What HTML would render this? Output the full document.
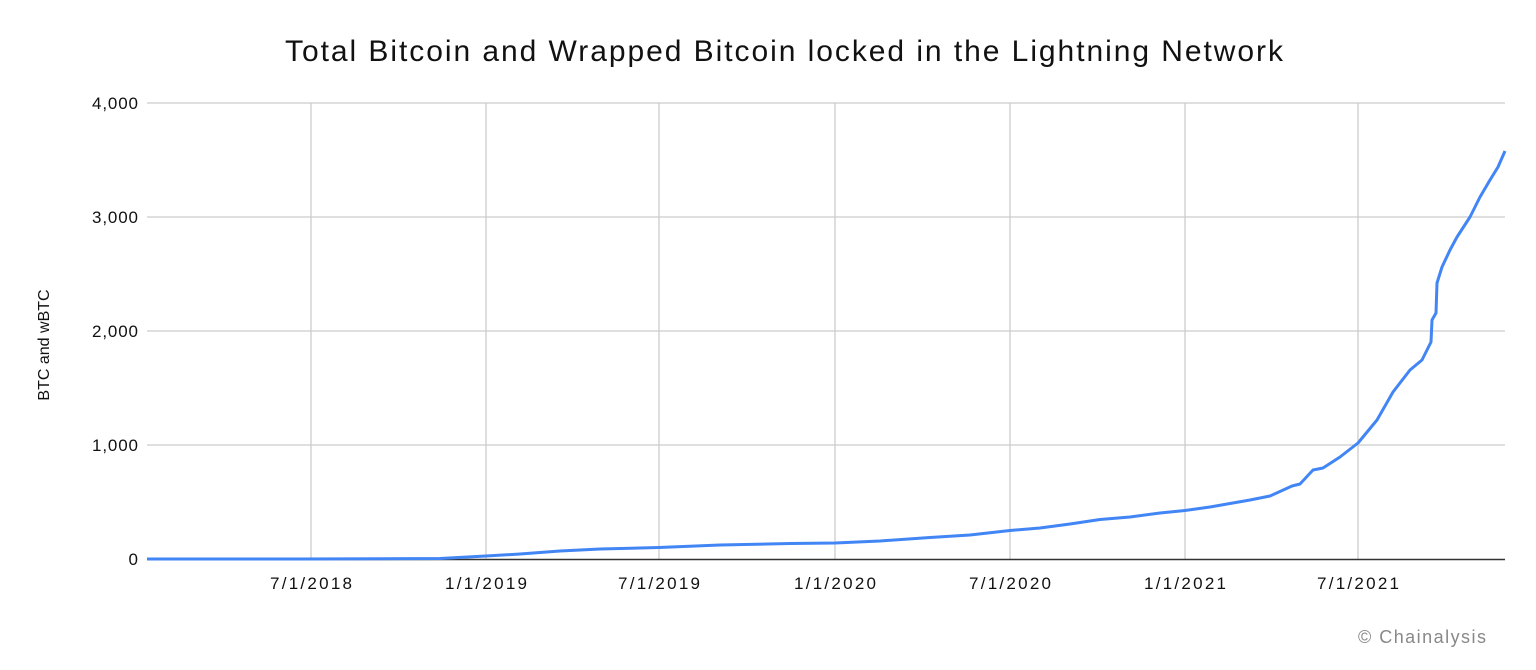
<!DOCTYPE html>
<html><head><meta charset="utf-8"><style>
html,body{margin:0;padding:0;background:#fff;}
svg{display:block;font-family:"Liberation Sans",sans-serif;}
</style></head><body>
<svg width="1536" height="670" viewBox="0 0 1536 670">
<text x="285" y="61" font-size="30" fill="#111" textLength="998" lengthAdjust="spacing">Total Bitcoin and Wrapped Bitcoin locked in the Lightning Network</text>
<g stroke="#cccccc" stroke-width="1.3">
<line x1="147" y1="103" x2="1505" y2="103"/>
<line x1="147" y1="217" x2="1505" y2="217"/>
<line x1="147" y1="331" x2="1505" y2="331"/>
<line x1="147" y1="445" x2="1505" y2="445"/>
<line x1="311" y1="103" x2="311" y2="559"/>
<line x1="486" y1="103" x2="486" y2="559"/>
<line x1="659" y1="103" x2="659" y2="559"/>
<line x1="835" y1="103" x2="835" y2="559"/>
<line x1="1010" y1="103" x2="1010" y2="559"/>
<line x1="1185" y1="103" x2="1185" y2="559"/>
<line x1="1358" y1="103" x2="1358" y2="559"/>
</g>
<line x1="147" y1="559.5" x2="1505" y2="559.5" stroke="#333" stroke-width="1.5"/>
<g font-size="17" fill="#111">
<text x="92" y="109" textLength="46" lengthAdjust="spacing">4,000</text>
<text x="92" y="223" textLength="46" lengthAdjust="spacing">3,000</text>
<text x="92" y="337" textLength="46" lengthAdjust="spacing">2,000</text>
<text x="92" y="451" textLength="46" lengthAdjust="spacing">1,000</text>
<text x="138" y="565" text-anchor="end">0</text>
</g>
<g font-size="17" fill="#111">
<text x="270" y="589" textLength="82" lengthAdjust="spacing">7/1/2018</text>
<text x="445" y="589" textLength="82" lengthAdjust="spacing">1/1/2019</text>
<text x="618" y="589" textLength="82" lengthAdjust="spacing">7/1/2019</text>
<text x="794" y="589" textLength="82" lengthAdjust="spacing">1/1/2020</text>
<text x="969" y="589" textLength="82" lengthAdjust="spacing">7/1/2020</text>
<text x="1144" y="589" textLength="82" lengthAdjust="spacing">1/1/2021</text>
<text x="1317" y="589" textLength="82" lengthAdjust="spacing">7/1/2021</text>
</g>
<text transform="translate(49,345) rotate(-90)" text-anchor="middle" font-size="16" fill="#111">BTC and wBTC</text>
<text x="1358" y="643" font-size="18" fill="#888" textLength="128" lengthAdjust="spacing">© Chainalysis</text>
<polyline fill="none" stroke="#4285f4" stroke-width="3" stroke-linejoin="round"
points="147,559 300,559 440,558.5 486,556 520,554 560,551 600,549 659,547.5 720,545 790,543.5 835,543 880,541 930,537.5 970,535 1010,530.5 1040,528 1070,524 1100,519.5 1130,517 1160,513 1185,510.5 1210,507 1250,500 1270,496 1292,486 1300,484 1313,470 1323,468 1340,457 1358,443 1377,420 1393,392 1410,370 1422,360 1431,342 1432,320 1436,313 1437,283 1442,267 1450,250 1457,237 1470,217 1480,197 1490,180 1498,167 1505,151"/>
</svg>
</body></html>
